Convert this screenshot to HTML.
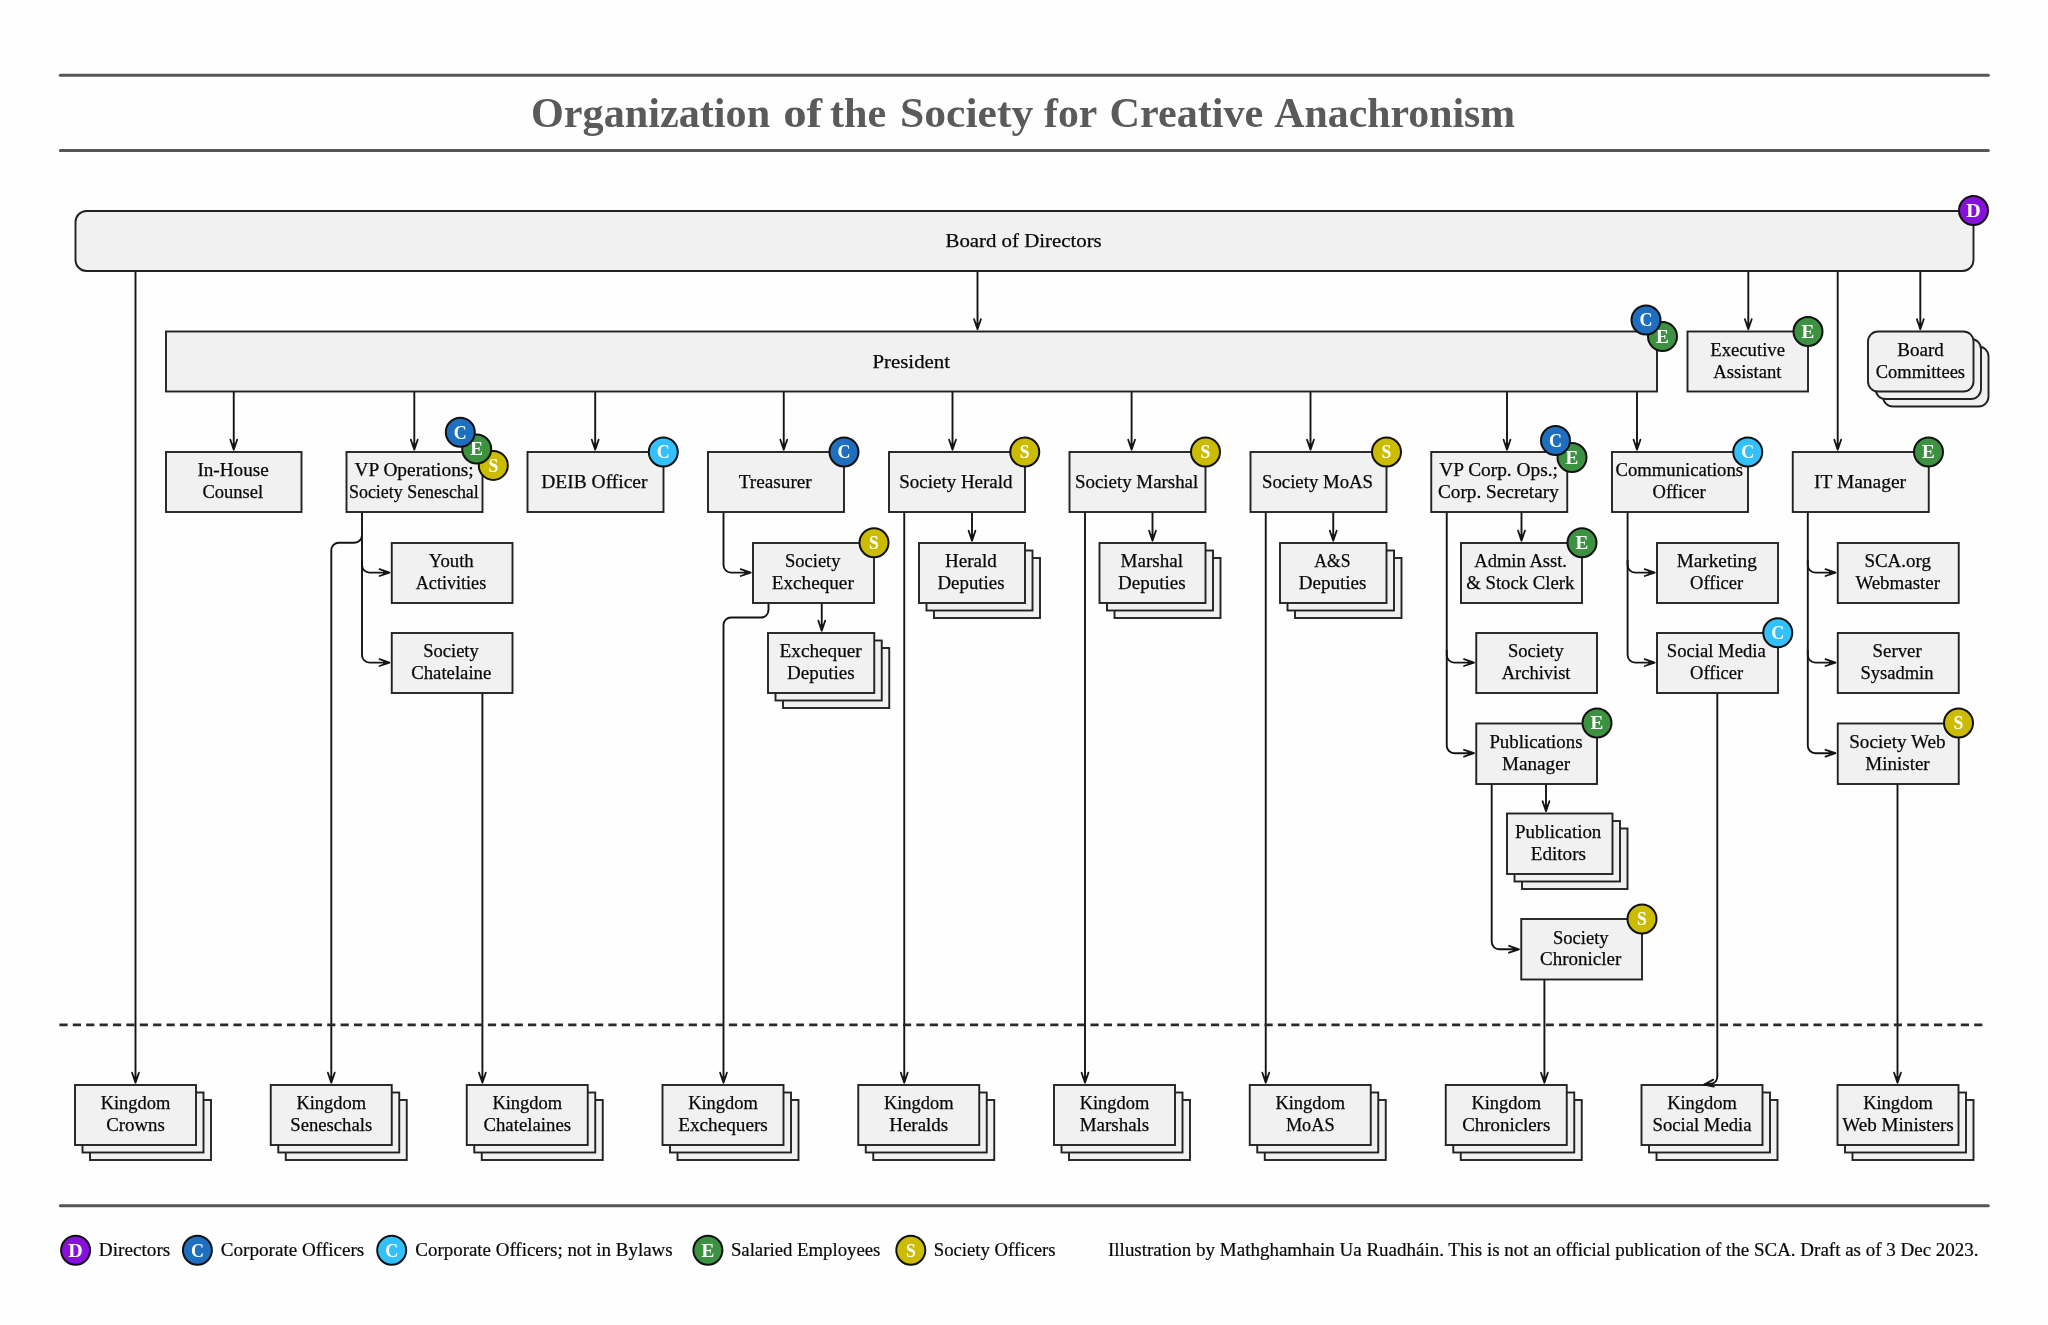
<!DOCTYPE html>
<html><head><meta charset="utf-8"><title>Organization of the Society for Creative Anachronism</title>
<style>
html,body{margin:0;padding:0;background:#fefefe;}
svg{display:block;will-change:transform;}
.b{fill:#f1f1f1;stroke:#222;stroke-width:1.9;}
.ln{fill:none;stroke:#141414;stroke-width:1.9;}
.ah{fill:none;stroke:#141414;stroke-width:1.8;stroke-linejoin:round;stroke-linecap:round;}
.af{fill:#141414;stroke:none;}
.rule{stroke:#565656;stroke-width:3;stroke-linecap:round;}
.dash{stroke:#2a2a2a;stroke-width:2.6;stroke-dasharray:8.2 5.19;}
text{font-family:"Liberation Serif",serif;}
.t{font-size:19px;fill:#080808;stroke:#080808;stroke-width:0.25;text-anchor:middle;}
.title{font-size:43px;font-weight:bold;fill:#5a5a5a;text-anchor:middle;}
.bl{font-size:19px;font-weight:bold;fill:#fff;text-anchor:middle;}
.lg{font-size:19px;fill:#080808;stroke:#080808;stroke-width:0.2;}
</style></head>
<body>
<svg width="2048" height="1325" viewBox="0 0 2048 1325">
<rect x="0" y="0" width="2048" height="1325" fill="#fefefe"/>
<line x1="60.3" y1="75.2" x2="1988.3" y2="75.2" class="rule"/>
<line x1="60.3" y1="150.6" x2="1988.3" y2="150.6" class="rule"/>
<text x="531.00" y="127.20" class="title" style="text-anchor:start" textLength="239.16" lengthAdjust="spacingAndGlyphs">Organization</text>
<text x="783.20" y="127.20" class="title" style="text-anchor:start" textLength="38.98" lengthAdjust="spacingAndGlyphs">of</text>
<text x="830.00" y="127.20" class="title" style="text-anchor:start" textLength="56.22" lengthAdjust="spacingAndGlyphs">the</text>
<text x="900.00" y="127.20" class="title" style="text-anchor:start" textLength="133.25" lengthAdjust="spacingAndGlyphs">Society</text>
<text x="1044.00" y="127.20" class="title" style="text-anchor:start" textLength="53.30" lengthAdjust="spacingAndGlyphs">for</text>
<text x="1109.50" y="127.20" class="title" style="text-anchor:start" textLength="153.80" lengthAdjust="spacingAndGlyphs">Creative</text>
<text x="1274.30" y="127.20" class="title" style="text-anchor:start" textLength="240.79" lengthAdjust="spacingAndGlyphs">Anachronism</text>
<path d="M135.5,271 V1080" class="ln"/>
<path d="M132.10,1072.70 L135.50,1082.70 L138.90,1072.70" class="ah"/>
<path d="M133.80,1076.20 L135.50,1083.10 L137.20,1076.20Z" class="af"/>
<path d="M977.5,271 V326.5" class="ln"/>
<path d="M974.10,319.20 L977.50,329.20 L980.90,319.20" class="ah"/>
<path d="M975.80,322.70 L977.50,329.60 L979.20,322.70Z" class="af"/>
<path d="M1748.3,271 V326.5" class="ln"/>
<path d="M1744.90,319.20 L1748.30,329.20 L1751.70,319.20" class="ah"/>
<path d="M1746.60,322.70 L1748.30,329.60 L1750.00,322.70Z" class="af"/>
<path d="M1837.7,271 V447" class="ln"/>
<path d="M1834.30,439.70 L1837.70,449.70 L1841.10,439.70" class="ah"/>
<path d="M1836.00,443.20 L1837.70,450.10 L1839.40,443.20Z" class="af"/>
<path d="M1920.3,271 V326.5" class="ln"/>
<path d="M1916.90,319.20 L1920.30,329.20 L1923.70,319.20" class="ah"/>
<path d="M1918.60,322.70 L1920.30,329.60 L1922.00,322.70Z" class="af"/>
<path d="M233.75,391.5 V447" class="ln"/>
<path d="M230.35,439.70 L233.75,449.70 L237.15,439.70" class="ah"/>
<path d="M232.05,443.20 L233.75,450.10 L235.45,443.20Z" class="af"/>
<path d="M414.3,391.5 V447" class="ln"/>
<path d="M410.90,439.70 L414.30,449.70 L417.70,439.70" class="ah"/>
<path d="M412.60,443.20 L414.30,450.10 L416.00,443.20Z" class="af"/>
<path d="M595.2,391.5 V447" class="ln"/>
<path d="M591.80,439.70 L595.20,449.70 L598.60,439.70" class="ah"/>
<path d="M593.50,443.20 L595.20,450.10 L596.90,443.20Z" class="af"/>
<path d="M783.75,391.5 V447" class="ln"/>
<path d="M780.35,439.70 L783.75,449.70 L787.15,439.70" class="ah"/>
<path d="M782.05,443.20 L783.75,450.10 L785.45,443.20Z" class="af"/>
<path d="M952.5,391.5 V447" class="ln"/>
<path d="M949.10,439.70 L952.50,449.70 L955.90,439.70" class="ah"/>
<path d="M950.80,443.20 L952.50,450.10 L954.20,443.20Z" class="af"/>
<path d="M1131.6,391.5 V447" class="ln"/>
<path d="M1128.20,439.70 L1131.60,449.70 L1135.00,439.70" class="ah"/>
<path d="M1129.90,443.20 L1131.60,450.10 L1133.30,443.20Z" class="af"/>
<path d="M1310.5,391.5 V447" class="ln"/>
<path d="M1307.10,439.70 L1310.50,449.70 L1313.90,439.70" class="ah"/>
<path d="M1308.80,443.20 L1310.50,450.10 L1312.20,443.20Z" class="af"/>
<path d="M1507,391.5 V447" class="ln"/>
<path d="M1503.60,439.70 L1507.00,449.70 L1510.40,439.70" class="ah"/>
<path d="M1505.30,443.20 L1507.00,450.10 L1508.70,443.20Z" class="af"/>
<path d="M1637,391.5 V447" class="ln"/>
<path d="M1633.60,439.70 L1637.00,449.70 L1640.40,439.70" class="ah"/>
<path d="M1635.30,443.20 L1637.00,450.10 L1638.70,443.20Z" class="af"/>
<path d="M362,512 V535.2 A7.5,7.5 0 0 1 354.5,542.7 H338.8 A7.5,7.5 0 0 0 331.3,550.2 V1080" class="ln"/>
<path d="M327.90,1072.70 L331.30,1082.70 L334.70,1072.70" class="ah"/>
<path d="M329.60,1076.20 L331.30,1083.10 L333.00,1076.20Z" class="af"/>
<path d="M362,535 V565.1 A7.5,7.5 0 0 0 369.5,572.6 H386.8" class="ln"/>
<path d="M379.50,569.20 L389.50,572.60 L379.50,576.00" class="ah"/>
<path d="M383.00,570.90 L389.90,572.60 L383.00,574.30Z" class="af"/>
<path d="M362,560 V655.1 A7.5,7.5 0 0 0 369.5,662.6 H386.8" class="ln"/>
<path d="M379.50,659.20 L389.50,662.60 L379.50,666.00" class="ah"/>
<path d="M383.00,660.90 L389.90,662.60 L383.00,664.30Z" class="af"/>
<path d="M482.4,693 V1080" class="ln"/>
<path d="M479.00,1072.70 L482.40,1082.70 L485.80,1072.70" class="ah"/>
<path d="M480.70,1076.20 L482.40,1083.10 L484.10,1076.20Z" class="af"/>
<path d="M723.5,512 V565.1 A7.5,7.5 0 0 0 731.0,572.6 H748" class="ln"/>
<path d="M740.70,569.20 L750.70,572.60 L740.70,576.00" class="ah"/>
<path d="M744.20,570.90 L751.10,572.60 L744.20,574.30Z" class="af"/>
<path d="M768.5,603 V610 A7.5,7.5 0 0 1 761,617.5 H731 A7.5,7.5 0 0 0 723.5,625 V1080" class="ln"/>
<path d="M720.10,1072.70 L723.50,1082.70 L726.90,1072.70" class="ah"/>
<path d="M721.80,1076.20 L723.50,1083.10 L725.20,1076.20Z" class="af"/>
<path d="M821.75,603 V628" class="ln"/>
<path d="M818.35,620.70 L821.75,630.70 L825.15,620.70" class="ah"/>
<path d="M820.05,624.20 L821.75,631.10 L823.45,624.20Z" class="af"/>
<path d="M904.25,512 V1080" class="ln"/>
<path d="M900.85,1072.70 L904.25,1082.70 L907.65,1072.70" class="ah"/>
<path d="M902.55,1076.20 L904.25,1083.10 L905.95,1076.20Z" class="af"/>
<path d="M972,512 V538" class="ln"/>
<path d="M968.60,530.70 L972.00,540.70 L975.40,530.70" class="ah"/>
<path d="M970.30,534.20 L972.00,541.10 L973.70,534.20Z" class="af"/>
<path d="M1085,512 V1080" class="ln"/>
<path d="M1081.60,1072.70 L1085.00,1082.70 L1088.40,1072.70" class="ah"/>
<path d="M1083.30,1076.20 L1085.00,1083.10 L1086.70,1076.20Z" class="af"/>
<path d="M1152.5,512 V538" class="ln"/>
<path d="M1149.10,530.70 L1152.50,540.70 L1155.90,530.70" class="ah"/>
<path d="M1150.80,534.20 L1152.50,541.10 L1154.20,534.20Z" class="af"/>
<path d="M1265.75,512 V1080" class="ln"/>
<path d="M1262.35,1072.70 L1265.75,1082.70 L1269.15,1072.70" class="ah"/>
<path d="M1264.05,1076.20 L1265.75,1083.10 L1267.45,1076.20Z" class="af"/>
<path d="M1333.25,512 V538" class="ln"/>
<path d="M1329.85,530.70 L1333.25,540.70 L1336.65,530.70" class="ah"/>
<path d="M1331.55,534.20 L1333.25,541.10 L1334.95,534.20Z" class="af"/>
<path d="M1521.5,512 V538" class="ln"/>
<path d="M1518.10,530.70 L1521.50,540.70 L1524.90,530.70" class="ah"/>
<path d="M1519.80,534.20 L1521.50,541.10 L1523.20,534.20Z" class="af"/>
<path d="M1446.75,512 V655.1 A7.5,7.5 0 0 0 1454.25,662.6 H1471.3" class="ln"/>
<path d="M1464.00,659.20 L1474.00,662.60 L1464.00,666.00" class="ah"/>
<path d="M1467.50,660.90 L1474.40,662.60 L1467.50,664.30Z" class="af"/>
<path d="M1446.75,650 V745.7 A7.5,7.5 0 0 0 1454.25,753.2 H1471.3" class="ln"/>
<path d="M1464.00,749.80 L1474.00,753.20 L1464.00,756.60" class="ah"/>
<path d="M1467.50,751.50 L1474.40,753.20 L1467.50,754.90Z" class="af"/>
<path d="M1546,784 V808.5" class="ln"/>
<path d="M1542.60,801.20 L1546.00,811.20 L1549.40,801.20" class="ah"/>
<path d="M1544.30,804.70 L1546.00,811.60 L1547.70,804.70Z" class="af"/>
<path d="M1491.7,784 V941.8 A7.5,7.5 0 0 0 1499.2,949.3 H1516.3" class="ln"/>
<path d="M1509.00,945.90 L1519.00,949.30 L1509.00,952.70" class="ah"/>
<path d="M1512.50,947.60 L1519.40,949.30 L1512.50,951.00Z" class="af"/>
<path d="M1544.4,979.5 V1080" class="ln"/>
<path d="M1541.00,1072.70 L1544.40,1082.70 L1547.80,1072.70" class="ah"/>
<path d="M1542.70,1076.20 L1544.40,1083.10 L1546.10,1076.20Z" class="af"/>
<path d="M1627.6,512 V565.1 A7.5,7.5 0 0 0 1635.1,572.6 H1652" class="ln"/>
<path d="M1644.70,569.20 L1654.70,572.60 L1644.70,576.00" class="ah"/>
<path d="M1648.20,570.90 L1655.10,572.60 L1648.20,574.30Z" class="af"/>
<path d="M1627.6,560 V655.1 A7.5,7.5 0 0 0 1635.1,662.6 H1652" class="ln"/>
<path d="M1644.70,659.20 L1654.70,662.60 L1644.70,666.00" class="ah"/>
<path d="M1648.20,660.90 L1655.10,662.60 L1648.20,664.30Z" class="af"/>
<path d="M1717.3,693 V1076.5" class="ln"/>
<path d="M1807.8,512 V565.1 A7.5,7.5 0 0 0 1815.3,572.6 H1832.8" class="ln"/>
<path d="M1825.50,569.20 L1835.50,572.60 L1825.50,576.00" class="ah"/>
<path d="M1829.00,570.90 L1835.90,572.60 L1829.00,574.30Z" class="af"/>
<path d="M1807.8,560 V655.1 A7.5,7.5 0 0 0 1815.3,662.6 H1832.8" class="ln"/>
<path d="M1825.50,659.20 L1835.50,662.60 L1825.50,666.00" class="ah"/>
<path d="M1829.00,660.90 L1835.90,662.60 L1829.00,664.30Z" class="af"/>
<path d="M1807.8,650 V745.7 A7.5,7.5 0 0 0 1815.3,753.2 H1832.8" class="ln"/>
<path d="M1825.50,749.80 L1835.50,753.20 L1825.50,756.60" class="ah"/>
<path d="M1829.00,751.50 L1835.90,753.20 L1829.00,754.90Z" class="af"/>
<path d="M1897.5,784 V1080" class="ln"/>
<path d="M1894.10,1072.70 L1897.50,1082.70 L1900.90,1072.70" class="ah"/>
<path d="M1895.80,1076.20 L1897.50,1083.10 L1899.20,1076.20Z" class="af"/>
<line x1="59.4" y1="1024.9" x2="1983" y2="1024.9" class="dash"/>
<rect x="75.5" y="211" width="1898.0" height="60" rx="11" class="b"/>
<text x="945.50" y="247.20" class="t" style="text-anchor:start" textLength="156.20" lengthAdjust="spacingAndGlyphs">Board of Directors</text>
<rect x="166" y="331.5" width="1491" height="60.0" class="b"/>
<text x="872.50" y="367.70" class="t" style="text-anchor:start" textLength="77.51" lengthAdjust="spacingAndGlyphs">President</text>
<rect x="1687.5" y="331.5" width="120.5" height="60.0" class="b"/>
<text x="1710.25" y="355.90" class="t" style="text-anchor:start" textLength="74.71" lengthAdjust="spacingAndGlyphs">Executive</text>
<text x="1713.20" y="377.60" class="t" style="text-anchor:start" textLength="68.37" lengthAdjust="spacingAndGlyphs">Assistant</text>
<rect x="1883" y="346.5" width="105.5" height="60.0" rx="10" class="b"/>
<rect x="1875.5" y="339.0" width="105.5" height="60.0" rx="10" class="b"/>
<rect x="1868" y="331.5" width="105.5" height="60.0" rx="10" class="b"/>
<text x="1897.25" y="355.90" class="t" style="text-anchor:start" textLength="46.48" lengthAdjust="spacingAndGlyphs">Board</text>
<text x="1875.75" y="377.60" class="t" style="text-anchor:start" textLength="89.27" lengthAdjust="spacingAndGlyphs">Committees</text>
<rect x="166" y="452" width="135.5" height="60" class="b"/>
<text x="197.40" y="476.40" class="t" style="text-anchor:start" textLength="71.40" lengthAdjust="spacingAndGlyphs">In-House</text>
<text x="202.50" y="498.10" class="t" style="text-anchor:start" textLength="60.68" lengthAdjust="spacingAndGlyphs">Counsel</text>
<rect x="346.5" y="452" width="136.0" height="60" class="b"/>
<text x="354.50" y="476.40" class="t" style="text-anchor:start" textLength="119.23" lengthAdjust="spacingAndGlyphs">VP Operations;</text>
<text x="349.00" y="498.10" class="t" style="text-anchor:start" textLength="129.76" lengthAdjust="spacingAndGlyphs">Society Seneschal</text>
<rect x="527.5" y="452" width="136.0" height="60" class="b"/>
<text x="541.25" y="488.20" class="t" style="text-anchor:start" textLength="106.23" lengthAdjust="spacingAndGlyphs">DEIB Officer</text>
<rect x="708" y="452" width="136" height="60" class="b"/>
<text x="738.75" y="488.20" class="t" style="text-anchor:start" textLength="73.01" lengthAdjust="spacingAndGlyphs">Treasurer</text>
<rect x="889" y="452" width="136" height="60" class="b"/>
<text x="899.25" y="488.20" class="t" style="text-anchor:start" textLength="113.28" lengthAdjust="spacingAndGlyphs">Society Herald</text>
<rect x="1069.5" y="452" width="136.0" height="60" class="b"/>
<text x="1075.00" y="488.20" class="t" style="text-anchor:start" textLength="123.25" lengthAdjust="spacingAndGlyphs">Society Marshal</text>
<rect x="1250.5" y="452" width="136.0" height="60" class="b"/>
<text x="1262.00" y="488.20" class="t" style="text-anchor:start" textLength="111.02" lengthAdjust="spacingAndGlyphs">Society MoAS</text>
<rect x="1431.25" y="452" width="136.0" height="60" class="b"/>
<text x="1439.25" y="476.40" class="t" style="text-anchor:start" textLength="118.73" lengthAdjust="spacingAndGlyphs">VP Corp. Ops.;</text>
<text x="1438.00" y="498.10" class="t" style="text-anchor:start" textLength="120.78" lengthAdjust="spacingAndGlyphs">Corp. Secretary</text>
<rect x="1612" y="452" width="136" height="60" class="b"/>
<text x="1615.50" y="476.40" class="t" style="text-anchor:start" textLength="127.52" lengthAdjust="spacingAndGlyphs">Communications</text>
<text x="1652.50" y="498.10" class="t" style="text-anchor:start" textLength="53.25" lengthAdjust="spacingAndGlyphs">Officer</text>
<rect x="1792.75" y="452" width="136.0" height="60" class="b"/>
<text x="1814.00" y="488.20" class="t" style="text-anchor:start" textLength="92.06" lengthAdjust="spacingAndGlyphs">IT Manager</text>
<rect x="391.75" y="543" width="120.75" height="60" class="b"/>
<text x="428.75" y="567.40" class="t" style="text-anchor:start" textLength="45.00" lengthAdjust="spacingAndGlyphs">Youth</text>
<text x="415.75" y="589.10" class="t" style="text-anchor:start" textLength="70.47" lengthAdjust="spacingAndGlyphs">Activities</text>
<rect x="753" y="543" width="121" height="60" class="b"/>
<text x="785.00" y="567.40" class="t" style="text-anchor:start" textLength="55.49" lengthAdjust="spacingAndGlyphs">Society</text>
<text x="771.75" y="589.10" class="t" style="text-anchor:start" textLength="82.03" lengthAdjust="spacingAndGlyphs">Exchequer</text>
<rect x="934" y="558" width="106" height="60" class="b"/>
<rect x="926.5" y="550.5" width="106.0" height="60.0" class="b"/>
<rect x="919" y="543" width="106" height="60" class="b"/>
<text x="945.00" y="567.40" class="t" style="text-anchor:start" textLength="51.74" lengthAdjust="spacingAndGlyphs">Herald</text>
<text x="937.50" y="589.10" class="t" style="text-anchor:start" textLength="67.04" lengthAdjust="spacingAndGlyphs">Deputies</text>
<rect x="1114.5" y="558" width="106.0" height="60" class="b"/>
<rect x="1107.0" y="550.5" width="106.0" height="60.0" class="b"/>
<rect x="1099.5" y="543" width="106.0" height="60" class="b"/>
<text x="1120.50" y="567.40" class="t" style="text-anchor:start" textLength="62.46" lengthAdjust="spacingAndGlyphs">Marshal</text>
<text x="1118.00" y="589.10" class="t" style="text-anchor:start" textLength="67.54" lengthAdjust="spacingAndGlyphs">Deputies</text>
<rect x="1295" y="558" width="106.5" height="60" class="b"/>
<rect x="1287.5" y="550.5" width="106.5" height="60.0" class="b"/>
<rect x="1280" y="543" width="106.5" height="60" class="b"/>
<text x="1314.25" y="567.40" class="t" style="text-anchor:start" textLength="36.22" lengthAdjust="spacingAndGlyphs">A&amp;S</text>
<text x="1298.75" y="589.10" class="t" style="text-anchor:start" textLength="67.54" lengthAdjust="spacingAndGlyphs">Deputies</text>
<rect x="1461" y="543" width="121" height="60" class="b"/>
<text x="1474.25" y="567.40" class="t" style="text-anchor:start" textLength="92.77" lengthAdjust="spacingAndGlyphs">Admin Asst.</text>
<text x="1466.25" y="589.10" class="t" style="text-anchor:start" textLength="108.22" lengthAdjust="spacingAndGlyphs">&amp; Stock Clerk</text>
<rect x="1657" y="543" width="121" height="60" class="b"/>
<text x="1676.75" y="567.40" class="t" style="text-anchor:start" textLength="80.04" lengthAdjust="spacingAndGlyphs">Marketing</text>
<text x="1690.00" y="589.10" class="t" style="text-anchor:start" textLength="53.25" lengthAdjust="spacingAndGlyphs">Officer</text>
<rect x="1837.75" y="543" width="121.0" height="60" class="b"/>
<text x="1864.40" y="567.40" class="t" style="text-anchor:start" textLength="66.60" lengthAdjust="spacingAndGlyphs">SCA.org</text>
<text x="1855.40" y="589.10" class="t" style="text-anchor:start" textLength="84.59" lengthAdjust="spacingAndGlyphs">Webmaster</text>
<rect x="391.75" y="633" width="120.75" height="60" class="b"/>
<text x="423.25" y="657.40" class="t" style="text-anchor:start" textLength="55.49" lengthAdjust="spacingAndGlyphs">Society</text>
<text x="411.25" y="679.10" class="t" style="text-anchor:start" textLength="80.04" lengthAdjust="spacingAndGlyphs">Chatelaine</text>
<rect x="783" y="648" width="106.25" height="60" class="b"/>
<rect x="775.5" y="640.5" width="106.25" height="60.0" class="b"/>
<rect x="768" y="633" width="106.25" height="60" class="b"/>
<text x="779.50" y="657.40" class="t" style="text-anchor:start" textLength="82.28" lengthAdjust="spacingAndGlyphs">Exchequer</text>
<text x="787.00" y="679.10" class="t" style="text-anchor:start" textLength="67.54" lengthAdjust="spacingAndGlyphs">Deputies</text>
<rect x="1476.25" y="633" width="120.75" height="60" class="b"/>
<text x="1508.00" y="657.40" class="t" style="text-anchor:start" textLength="55.74" lengthAdjust="spacingAndGlyphs">Society</text>
<text x="1501.75" y="679.10" class="t" style="text-anchor:start" textLength="68.76" lengthAdjust="spacingAndGlyphs">Archivist</text>
<rect x="1657" y="633" width="121" height="60" class="b"/>
<text x="1666.75" y="657.40" class="t" style="text-anchor:start" textLength="98.98" lengthAdjust="spacingAndGlyphs">Social Media</text>
<text x="1690.00" y="679.10" class="t" style="text-anchor:start" textLength="53.25" lengthAdjust="spacingAndGlyphs">Officer</text>
<rect x="1837.75" y="633" width="121.0" height="60" class="b"/>
<text x="1872.60" y="657.40" class="t" style="text-anchor:start" textLength="49.09" lengthAdjust="spacingAndGlyphs">Server</text>
<text x="1860.40" y="679.10" class="t" style="text-anchor:start" textLength="73.15" lengthAdjust="spacingAndGlyphs">Sysadmin</text>
<rect x="1476.25" y="723.5" width="120.75" height="60.5" class="b"/>
<text x="1489.40" y="748.15" class="t" style="text-anchor:start" textLength="93.14" lengthAdjust="spacingAndGlyphs">Publications</text>
<text x="1502.00" y="769.85" class="t" style="text-anchor:start" textLength="68.02" lengthAdjust="spacingAndGlyphs">Manager</text>
<rect x="1837.75" y="723.5" width="121.0" height="60.5" class="b"/>
<text x="1849.20" y="748.15" class="t" style="text-anchor:start" textLength="96.44" lengthAdjust="spacingAndGlyphs">Society Web</text>
<text x="1865.30" y="769.85" class="t" style="text-anchor:start" textLength="64.38" lengthAdjust="spacingAndGlyphs">Minister</text>
<rect x="1522" y="828.5" width="105.5" height="60.5" class="b"/>
<rect x="1514.5" y="821.0" width="105.5" height="60.5" class="b"/>
<rect x="1507" y="813.5" width="105.5" height="60.5" class="b"/>
<text x="1515.10" y="838.15" class="t" style="text-anchor:start" textLength="86.25" lengthAdjust="spacingAndGlyphs">Publication</text>
<text x="1530.70" y="859.85" class="t" style="text-anchor:start" textLength="55.28" lengthAdjust="spacingAndGlyphs">Editors</text>
<rect x="1521.25" y="919" width="120.75" height="60.5" class="b"/>
<text x="1553.00" y="943.65" class="t" style="text-anchor:start" textLength="55.59" lengthAdjust="spacingAndGlyphs">Society</text>
<text x="1540.00" y="965.35" class="t" style="text-anchor:start" textLength="81.25" lengthAdjust="spacingAndGlyphs">Chronicler</text>
<rect x="90" y="1100" width="121" height="60" class="b"/>
<rect x="82.5" y="1092.5" width="121.0" height="60.0" class="b"/>
<rect x="75" y="1085" width="121" height="60" class="b"/>
<text x="100.65" y="1109.40" class="t" style="text-anchor:start" textLength="69.68" lengthAdjust="spacingAndGlyphs">Kingdom</text>
<text x="106.20" y="1131.10" class="t" style="text-anchor:start" textLength="58.62" lengthAdjust="spacingAndGlyphs">Crowns</text>
<rect x="285.75" y="1100" width="121.0" height="60" class="b"/>
<rect x="278.25" y="1092.5" width="121.0" height="60.0" class="b"/>
<rect x="270.75" y="1085" width="121.0" height="60" class="b"/>
<text x="296.40" y="1109.40" class="t" style="text-anchor:start" textLength="69.68" lengthAdjust="spacingAndGlyphs">Kingdom</text>
<text x="290.25" y="1131.10" class="t" style="text-anchor:start" textLength="81.96" lengthAdjust="spacingAndGlyphs">Seneschals</text>
<rect x="481.75" y="1100" width="121.0" height="60" class="b"/>
<rect x="474.25" y="1092.5" width="121.0" height="60.0" class="b"/>
<rect x="466.75" y="1085" width="121.0" height="60" class="b"/>
<text x="492.40" y="1109.40" class="t" style="text-anchor:start" textLength="69.68" lengthAdjust="spacingAndGlyphs">Kingdom</text>
<text x="483.45" y="1131.10" class="t" style="text-anchor:start" textLength="87.63" lengthAdjust="spacingAndGlyphs">Chatelaines</text>
<rect x="677.5" y="1100" width="121.0" height="60" class="b"/>
<rect x="670.0" y="1092.5" width="121.0" height="60.0" class="b"/>
<rect x="662.5" y="1085" width="121.0" height="60" class="b"/>
<text x="688.15" y="1109.40" class="t" style="text-anchor:start" textLength="69.68" lengthAdjust="spacingAndGlyphs">Kingdom</text>
<text x="678.15" y="1131.10" class="t" style="text-anchor:start" textLength="89.73" lengthAdjust="spacingAndGlyphs">Exchequers</text>
<rect x="873.25" y="1100" width="121.0" height="60" class="b"/>
<rect x="865.75" y="1092.5" width="121.0" height="60.0" class="b"/>
<rect x="858.25" y="1085" width="121.0" height="60" class="b"/>
<text x="883.90" y="1109.40" class="t" style="text-anchor:start" textLength="69.68" lengthAdjust="spacingAndGlyphs">Kingdom</text>
<text x="889.30" y="1131.10" class="t" style="text-anchor:start" textLength="58.89" lengthAdjust="spacingAndGlyphs">Heralds</text>
<rect x="1069" y="1100" width="121" height="60" class="b"/>
<rect x="1061.5" y="1092.5" width="121.0" height="60.0" class="b"/>
<rect x="1054" y="1085" width="121" height="60" class="b"/>
<text x="1079.65" y="1109.40" class="t" style="text-anchor:start" textLength="69.68" lengthAdjust="spacingAndGlyphs">Kingdom</text>
<text x="1079.70" y="1131.10" class="t" style="text-anchor:start" textLength="69.55" lengthAdjust="spacingAndGlyphs">Marshals</text>
<rect x="1264.75" y="1100" width="121.0" height="60" class="b"/>
<rect x="1257.25" y="1092.5" width="121.0" height="60.0" class="b"/>
<rect x="1249.75" y="1085" width="121.0" height="60" class="b"/>
<text x="1275.40" y="1109.40" class="t" style="text-anchor:start" textLength="69.68" lengthAdjust="spacingAndGlyphs">Kingdom</text>
<text x="1285.90" y="1131.10" class="t" style="text-anchor:start" textLength="48.68" lengthAdjust="spacingAndGlyphs">MoAS</text>
<rect x="1460.75" y="1100" width="121.0" height="60" class="b"/>
<rect x="1453.25" y="1092.5" width="121.0" height="60.0" class="b"/>
<rect x="1445.75" y="1085" width="121.0" height="60" class="b"/>
<text x="1471.40" y="1109.40" class="t" style="text-anchor:start" textLength="69.68" lengthAdjust="spacingAndGlyphs">Kingdom</text>
<text x="1462.30" y="1131.10" class="t" style="text-anchor:start" textLength="87.94" lengthAdjust="spacingAndGlyphs">Chroniclers</text>
<rect x="1656.5" y="1100" width="121.0" height="60" class="b"/>
<rect x="1649.0" y="1092.5" width="121.0" height="60.0" class="b"/>
<rect x="1641.5" y="1085" width="121.0" height="60" class="b"/>
<text x="1667.15" y="1109.40" class="t" style="text-anchor:start" textLength="69.68" lengthAdjust="spacingAndGlyphs">Kingdom</text>
<text x="1652.50" y="1131.10" class="t" style="text-anchor:start" textLength="98.98" lengthAdjust="spacingAndGlyphs">Social Media</text>
<rect x="1852.5" y="1100" width="121.0" height="60" class="b"/>
<rect x="1845.0" y="1092.5" width="121.0" height="60.0" class="b"/>
<rect x="1837.5" y="1085" width="121.0" height="60" class="b"/>
<text x="1863.15" y="1109.40" class="t" style="text-anchor:start" textLength="69.68" lengthAdjust="spacingAndGlyphs">Kingdom</text>
<text x="1842.30" y="1131.10" class="t" style="text-anchor:start" textLength="111.37" lengthAdjust="spacingAndGlyphs">Web Ministers</text>
<path d="M1717.3,1076 Q1717.3,1083 1711,1083.8 L1704,1084.7" class="ln"/>
<path d="M1713.2,1079.6 L1703.8,1084.7 L1713.8,1086.5" class="ah"/>
<path d="M1709,1082 L1703.6,1084.7 L1709,1085.8Z" class="af"/>
<circle cx="1973.5" cy="210.5" r="14.5" fill="#8710dc" stroke="#111" stroke-width="2"/>
<text x="1973.5" y="216.80" class="bl" textLength="14.5" lengthAdjust="spacingAndGlyphs">D</text>
<circle cx="1662.5" cy="336.5" r="14.5" fill="#3d9241" stroke="#111" stroke-width="2"/>
<text x="1662.5" y="342.80" class="bl" textLength="12.8" lengthAdjust="spacingAndGlyphs">E</text>
<circle cx="1646" cy="320" r="14.5" fill="#1e6fbf" stroke="#111" stroke-width="2"/>
<text x="1646" y="326.30" class="bl" textLength="13.0" lengthAdjust="spacingAndGlyphs">C</text>
<circle cx="1808" cy="331.5" r="14.5" fill="#3d9241" stroke="#111" stroke-width="2"/>
<text x="1808" y="337.80" class="bl" textLength="12.8" lengthAdjust="spacingAndGlyphs">E</text>
<circle cx="493.3" cy="465.4" r="14.5" fill="#ccbc00" stroke="#111" stroke-width="2"/>
<text x="493.3" y="471.70" class="bl" textLength="9.8" lengthAdjust="spacingAndGlyphs">S</text>
<circle cx="476.7" cy="449" r="14.5" fill="#3d9241" stroke="#111" stroke-width="2"/>
<text x="476.7" y="455.30" class="bl" textLength="12.8" lengthAdjust="spacingAndGlyphs">E</text>
<circle cx="460.3" cy="432.3" r="14.5" fill="#1e6fbf" stroke="#111" stroke-width="2"/>
<text x="460.3" y="438.60" class="bl" textLength="13.0" lengthAdjust="spacingAndGlyphs">C</text>
<circle cx="663.3" cy="452" r="14.5" fill="#33c1fe" stroke="#111" stroke-width="2"/>
<text x="663.3" y="458.30" class="bl" textLength="13.0" lengthAdjust="spacingAndGlyphs">C</text>
<circle cx="844" cy="452" r="14.5" fill="#1e6fbf" stroke="#111" stroke-width="2"/>
<text x="844" y="458.30" class="bl" textLength="13.0" lengthAdjust="spacingAndGlyphs">C</text>
<circle cx="1024.75" cy="452" r="14.5" fill="#ccbc00" stroke="#111" stroke-width="2"/>
<text x="1024.75" y="458.30" class="bl" textLength="9.8" lengthAdjust="spacingAndGlyphs">S</text>
<circle cx="1205.5" cy="452" r="14.5" fill="#ccbc00" stroke="#111" stroke-width="2"/>
<text x="1205.5" y="458.30" class="bl" textLength="9.8" lengthAdjust="spacingAndGlyphs">S</text>
<circle cx="1386.5" cy="452" r="14.5" fill="#ccbc00" stroke="#111" stroke-width="2"/>
<text x="1386.5" y="458.30" class="bl" textLength="9.8" lengthAdjust="spacingAndGlyphs">S</text>
<circle cx="1572" cy="457.5" r="14.5" fill="#3d9241" stroke="#111" stroke-width="2"/>
<text x="1572" y="463.80" class="bl" textLength="12.8" lengthAdjust="spacingAndGlyphs">E</text>
<circle cx="1555.5" cy="440.5" r="14.5" fill="#1e6fbf" stroke="#111" stroke-width="2"/>
<text x="1555.5" y="446.80" class="bl" textLength="13.0" lengthAdjust="spacingAndGlyphs">C</text>
<circle cx="1747.75" cy="452" r="14.5" fill="#33c1fe" stroke="#111" stroke-width="2"/>
<text x="1747.75" y="458.30" class="bl" textLength="13.0" lengthAdjust="spacingAndGlyphs">C</text>
<circle cx="1928.5" cy="452" r="14.5" fill="#3d9241" stroke="#111" stroke-width="2"/>
<text x="1928.5" y="458.30" class="bl" textLength="12.8" lengthAdjust="spacingAndGlyphs">E</text>
<circle cx="874" cy="542.75" r="14.5" fill="#ccbc00" stroke="#111" stroke-width="2"/>
<text x="874" y="549.05" class="bl" textLength="9.8" lengthAdjust="spacingAndGlyphs">S</text>
<circle cx="1582" cy="542.75" r="14.5" fill="#3d9241" stroke="#111" stroke-width="2"/>
<text x="1582" y="549.05" class="bl" textLength="12.8" lengthAdjust="spacingAndGlyphs">E</text>
<circle cx="1777.75" cy="632.75" r="14.5" fill="#33c1fe" stroke="#111" stroke-width="2"/>
<text x="1777.75" y="639.05" class="bl" textLength="13.0" lengthAdjust="spacingAndGlyphs">C</text>
<circle cx="1597" cy="723" r="14.5" fill="#3d9241" stroke="#111" stroke-width="2"/>
<text x="1597" y="729.30" class="bl" textLength="12.8" lengthAdjust="spacingAndGlyphs">E</text>
<circle cx="1958.5" cy="723" r="14.5" fill="#ccbc00" stroke="#111" stroke-width="2"/>
<text x="1958.5" y="729.30" class="bl" textLength="9.8" lengthAdjust="spacingAndGlyphs">S</text>
<circle cx="1642" cy="919" r="14.5" fill="#ccbc00" stroke="#111" stroke-width="2"/>
<text x="1642" y="925.30" class="bl" textLength="9.8" lengthAdjust="spacingAndGlyphs">S</text>
<line x1="60.3" y1="1205.7" x2="1988.3" y2="1205.7" class="rule"/>
<circle cx="75.6" cy="1250.2" r="14.5" fill="#8710dc" stroke="#111" stroke-width="2"/>
<text x="75.6" y="1256.50" class="bl" textLength="14.5" lengthAdjust="spacingAndGlyphs">D</text>
<circle cx="197.4" cy="1250.2" r="14.5" fill="#1e6fbf" stroke="#111" stroke-width="2"/>
<text x="197.4" y="1256.50" class="bl" textLength="13.0" lengthAdjust="spacingAndGlyphs">C</text>
<circle cx="391.7" cy="1250.2" r="14.5" fill="#33c1fe" stroke="#111" stroke-width="2"/>
<text x="391.7" y="1256.50" class="bl" textLength="13.0" lengthAdjust="spacingAndGlyphs">C</text>
<circle cx="707.9" cy="1250.2" r="14.5" fill="#3d9241" stroke="#111" stroke-width="2"/>
<text x="707.9" y="1256.50" class="bl" textLength="12.8" lengthAdjust="spacingAndGlyphs">E</text>
<circle cx="910.8" cy="1250.2" r="14.5" fill="#ccbc00" stroke="#111" stroke-width="2"/>
<text x="910.8" y="1256.50" class="bl" textLength="9.8" lengthAdjust="spacingAndGlyphs">S</text>
<text x="98.80" y="1255.60" class="lg" style="text-anchor:start" textLength="71.49" lengthAdjust="spacingAndGlyphs">Directors</text>
<text x="220.80" y="1255.60" class="lg" style="text-anchor:start" textLength="143.52" lengthAdjust="spacingAndGlyphs">Corporate Officers</text>
<text x="415.30" y="1255.60" class="lg" style="text-anchor:start" textLength="257.30" lengthAdjust="spacingAndGlyphs">Corporate Officers; not in Bylaws</text>
<text x="730.90" y="1255.60" class="lg" style="text-anchor:start" textLength="149.52" lengthAdjust="spacingAndGlyphs">Salaried Employees</text>
<text x="933.80" y="1255.60" class="lg" style="text-anchor:start" textLength="121.73" lengthAdjust="spacingAndGlyphs">Society Officers</text>
<text x="1108.00" y="1256.00" class="lg" style="text-anchor:start" textLength="870.60" lengthAdjust="spacingAndGlyphs">Illustration by Mathghamhain Ua Ruadháin. This is not an official publication of the SCA. Draft as of 3 Dec 2023.</text>
</svg>
</body></html>
